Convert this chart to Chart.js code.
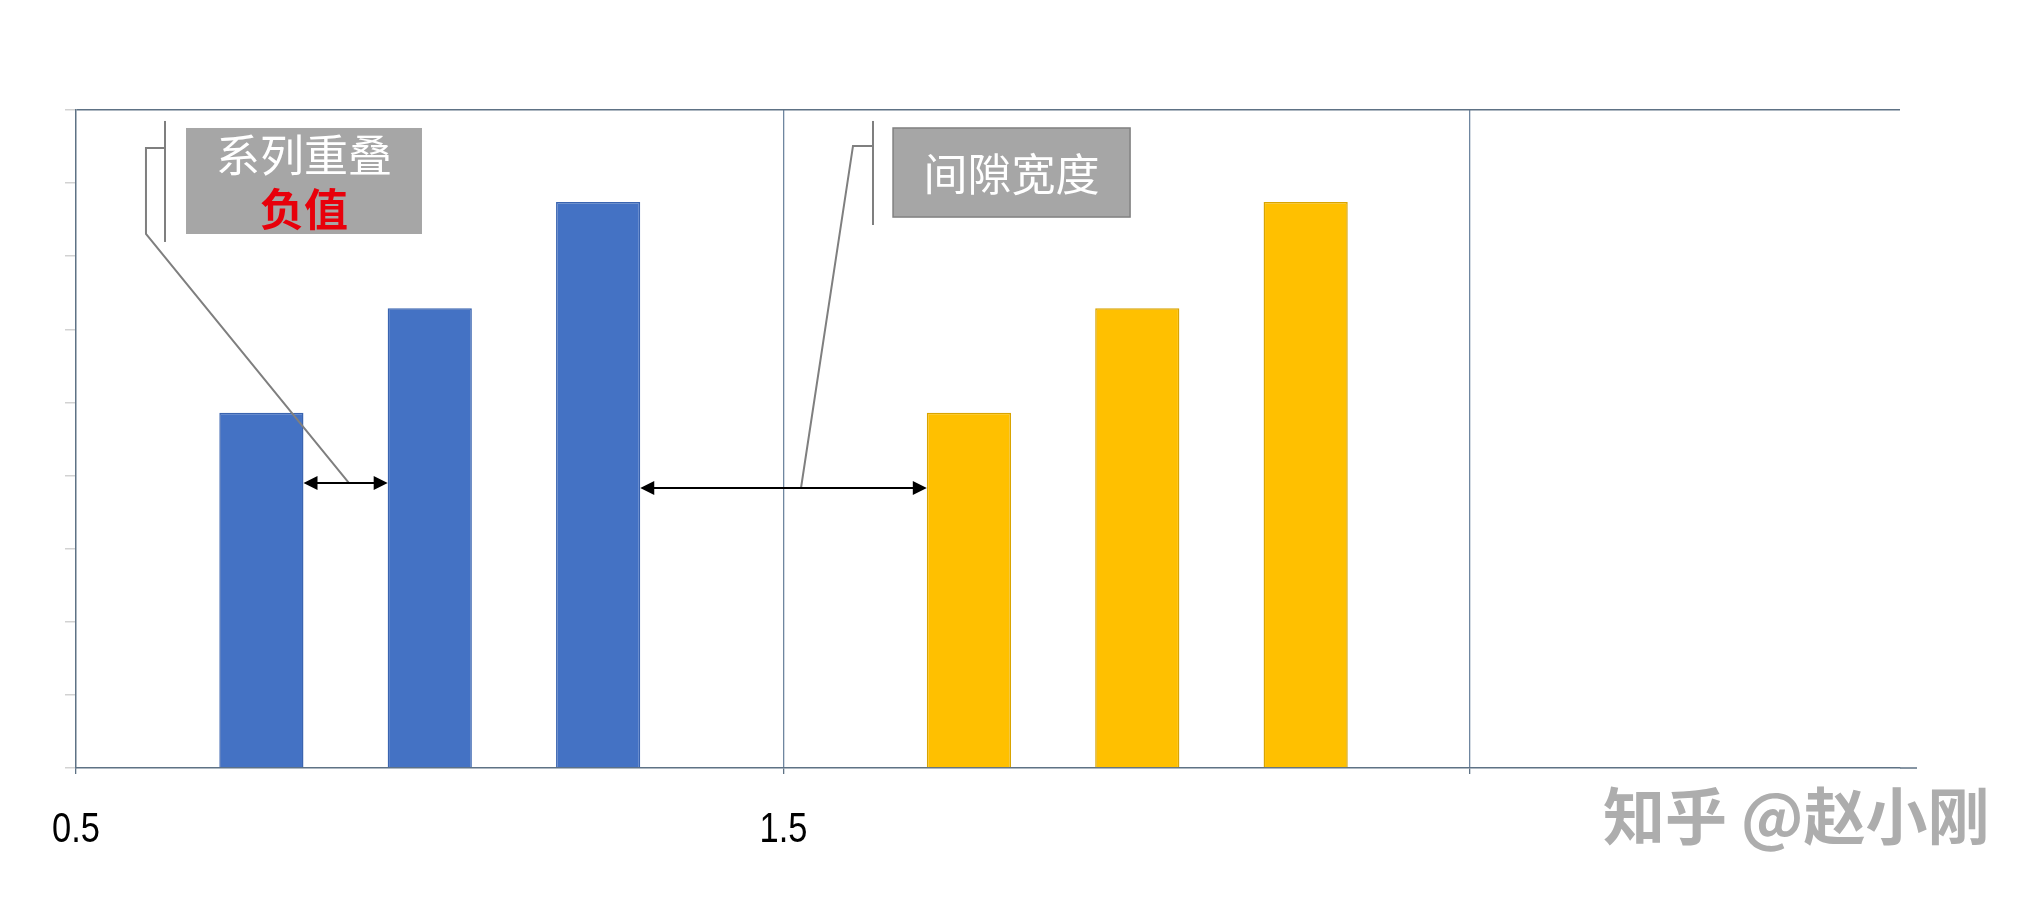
<!DOCTYPE html>
<html>
<head>
<meta charset="utf-8">
<script src="https://cdn.jsdelivr.net/npm/chart.js@4"></script>
<style>
  html, body { margin: 0; padding: 0; background: #ffffff; }
  canvas { display: block; }
</style>
</head>
<body>
<canvas id="c" width="2033" height="898"></canvas>
<script>
// ---- data ----
const categories = [1, 2];                 // group positions on the value axis
const seriesNames = ['系列1', '系列2', '系列3'];
const series1 = [4.86, 4.86];
const series2 = [6.29, 6.29];
const series3 = [7.74, 7.74];
const groupColors = ['#4472C4', '#FFC000'];
const groupBorders = ['#3A64B0', '#D9A400'];
const xTickValues = [0.5, 1.5, 2.47];
const xTickLabels = ['0.5', '1.5', ''];
const yMin = 0, yMax = 9, yStep = 1;
const xMin = 0.5, xMax = 3.078;
const calloutOverlap = ['系列重叠', '负值'];
const calloutGap = ['间隙宽度'];
const watermark = '知乎 @赵小刚';

const AXIS = '#5E7285';
const GRID = '#6F86A0';

function mk(name, vals) {
  return {
    label: name,
    data: categories.map((c, i) => ({ x: c, y: vals[i] })),
    backgroundColor: groupColors,
    borderColor: groupBorders,
    borderWidth: 1.5,
    borderSkipped: 'start',
    categoryPercentage: 0.736,
    barPercentage: 0.5
  };
}

function arrow(ctx, x1, x2, y) {
  const L = 14, H = 7;
  ctx.strokeStyle = '#000';
  ctx.fillStyle = '#000';
  ctx.lineWidth = 2;
  ctx.beginPath(); ctx.moveTo(x1 + L - 2, y); ctx.lineTo(x2 - L + 2, y); ctx.stroke();
  ctx.beginPath(); ctx.moveTo(x1, y); ctx.lineTo(x1 + L, y - H); ctx.lineTo(x1 + L, y + H); ctx.closePath(); ctx.fill();
  ctx.beginPath(); ctx.moveTo(x2, y); ctx.lineTo(x2 - L, y - H); ctx.lineTo(x2 - L, y + H); ctx.closePath(); ctx.fill();
}

const annot = {
  id: 'annot',
  afterDraw(chart) {
    const { ctx, chartArea } = chart;
    const xs = chart.scales.x, ys = chart.scales.y;
    const X = v => xs.getPixelForValue(v), Y = v => ys.getPixelForValue(v);
    ctx.save();

    // extension of the category axis line past the plot
    ctx.strokeStyle = AXIS; ctx.lineWidth = 1.5;
    ctx.beginPath(); ctx.moveTo(chartArea.right, Y(0)); ctx.lineTo(chartArea.right + 17, Y(0)); ctx.stroke();

    // x tick labels (narrow face)
    ctx.fillStyle = '#000000';
    ctx.font = '42px "Liberation Sans", Arial, sans-serif';
    ctx.textAlign = 'center'; ctx.textBaseline = 'alphabetic';
    xs.ticks.forEach((t, i) => {
      const lbl = xTickLabels[i];
      if (!lbl) return;
      ctx.save();
      ctx.translate(X(t.value), chartArea.bottom + 74);
      ctx.scale(0.82, 1);
      ctx.fillText(lbl, 0, 0);
      ctx.restore();
    });

    // callout leader lines
    ctx.strokeStyle = '#7F7F7F'; ctx.lineWidth = 2; ctx.lineJoin = 'miter';
    ctx.beginPath();
    ctx.moveTo(X(0.8859), Y(3.898)); ctx.lineTo(X(0.5989), Y(7.304));
    ctx.lineTo(X(0.5989), Y(8.480)); ctx.lineTo(X(0.6258), Y(8.480));
    ctx.stroke();
    ctx.beginPath(); ctx.moveTo(X(0.6258), Y(8.850)); ctx.lineTo(X(0.6258), Y(7.195)); ctx.stroke();

    ctx.beginPath();
    ctx.moveTo(X(1.5247), Y(3.830)); ctx.lineTo(X(1.5982), Y(8.508)); ctx.lineTo(X(1.6265), Y(8.508));
    ctx.stroke();
    ctx.beginPath(); ctx.moveTo(X(1.6265), Y(8.850)); ctx.lineTo(X(1.6265), Y(7.427)); ctx.stroke();

    // boxes
    ctx.fillStyle = '#A6A6A6';
    let bx1 = X(0.6555), bx2 = X(0.9890), by1 = Y(8.754), by2 = Y(7.304);
    ctx.fillRect(bx1, by1, bx2 - bx1, by2 - by1);
    let cx = (bx1 + bx2) / 2;
    ctx.textAlign = 'center'; ctx.textBaseline = 'middle';
    ctx.fillStyle = '#FFFFFF';
    ctx.font = '44px "Noto Sans CJK SC", sans-serif';
    ctx.fillText(calloutOverlap[0], cx, Y(8.385));
    ctx.fillStyle = '#E8000B';
    ctx.font = 'bold 44px "Noto Sans CJK SC", sans-serif';
    ctx.fillText(calloutOverlap[1], cx, Y(7.646));

    let gx1 = X(1.6548), gx2 = X(1.9898), gy1 = Y(8.754), gy2 = Y(7.536);
    ctx.fillStyle = '#A6A6A6';
    ctx.fillRect(gx1, gy1, gx2 - gx1, gy2 - gy1);
    ctx.strokeStyle = '#808080'; ctx.lineWidth = 1.5;
    ctx.strokeRect(gx1, gy1, gx2 - gx1, gy2 - gy1);
    ctx.fillStyle = '#FFFFFF';
    ctx.font = '44px "Noto Sans CJK SC", sans-serif';
    ctx.fillText(calloutGap[0], (gx1 + gx2) / 2, Y(8.125));

    // double arrows between bars, from the bar elements
    const b = (d, i) => chart.getDatasetMeta(d).data[i];
    const e00 = b(0, 0), e10 = b(1, 0), e20 = b(2, 0), e01 = b(0, 1);
    arrow(ctx, e00.x + e00.width / 2, e10.x - e10.width / 2, Y(3.898));
    arrow(ctx, e20.x + e20.width / 2, e01.x - e01.width / 2, Y(3.830));

    // watermark
    ctx.textAlign = 'left'; ctx.textBaseline = 'middle';
    ctx.fillStyle = '#ADADAD';
    ctx.font = 'bold 62px "Noto Sans CJK SC", sans-serif';
    ctx.fillText(watermark, 1603, 816);

    ctx.restore();
  }
};

new Chart(document.getElementById('c'), {
  type: 'bar',
  data: {
    datasets: [mk(seriesNames[0], series1), mk(seriesNames[1], series2), mk(seriesNames[2], series3)]
  },
  options: {
    responsive: false,
    devicePixelRatio: 1,
    animation: false,
    layout: { padding: { left: 76, top: 110, right: 133, bottom: 0 } },
    plugins: { legend: { display: false }, tooltip: { enabled: false } },
    scales: {
      x: {
        type: 'linear',
        min: xMin, max: xMax,
        offset: false,
        afterBuildTicks: s => { s.ticks = xTickValues.map(v => ({ value: v })); },
        afterFit: s => { s.height = 130; },
        ticks: {
          display: false,
          autoSkip: false, maxRotation: 0, minRotation: 0,
          callback: (v, i) => xTickLabels[i]
        },
        grid: {
          offset: false,
          color: c => (c.index === 0 ? 'rgba(0,0,0,0)' : GRID),
          lineWidth: 1.3,
          drawTicks: true,
          tickLength: 6,
          tickColor: AXIS
        },
        border: { display: true, color: AXIS, width: 1.5 }
      },
      y: {
        min: yMin, max: yMax,
        afterFit: s => { s.width = 0; },
        ticks: { stepSize: yStep, display: false },
        grid: {
          color: c => (c.tick && c.tick.value === yMax ? AXIS : 'rgba(0,0,0,0)'),
          lineWidth: 1.5,
          drawTicks: true,
          tickLength: 11,
          tickColor: '#D2D2D2'
        },
        border: { display: true, color: AXIS, width: 1.5 }
      }
    }
  },
  plugins: [annot]
});
</script>
</body>
</html>
